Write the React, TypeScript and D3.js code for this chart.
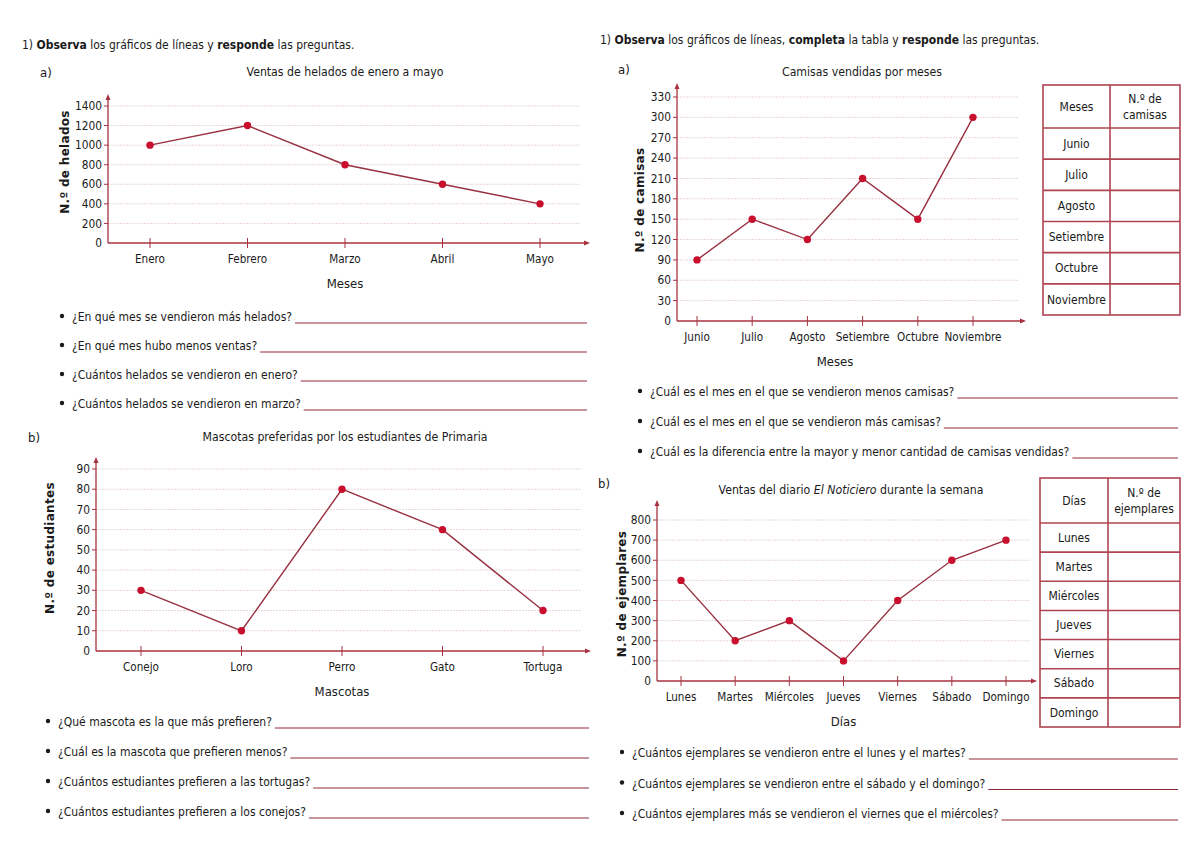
import { useEffect, useRef } from "react";
import * as d3 from "d3";

// chart a) helados
const heladosMeses = ["Enero", "Febrero", "Marzo", "Abril", "Mayo"];
const heladosVentas = [1000, 1200, 800, 600, 400];
const heladosPreguntas = [
  "¿En qué mes se vendieron más helados?",
  "¿En qué mes hubo menos ventas?",
  "¿Cuántos helados se vendieron en enero?",
  "¿Cuántos helados se vendieron en marzo?",
];

// chart b) mascotas
const mascotas = ["Conejo", "Loro", "Perro", "Gato", "Tortuga"];
const mascotasVotos = [30, 10, 80, 60, 20];
const mascotasPreguntas = [
  "¿Qué mascota es la que más prefieren?",
  "¿Cuál es la mascota que prefieren menos?",
  "¿Cuántos estudiantes prefieren a las tortugas?",
  "¿Cuántos estudiantes prefieren a los conejos?",
];

// chart c) camisas
const camisasMeses = ["Junio", "Julio", "Agosto", "Setiembre", "Octubre", "Noviembre"];
const camisasVentas = [90, 150, 120, 210, 150, 300];
const camisasPreguntas = [
  "¿Cuál es el mes en el que se vendieron menos camisas?",
  "¿Cuál es el mes en el que se vendieron más camisas?",
  "¿Cuál es la diferencia entre la mayor y menor cantidad de camisas vendidas?",
];

// chart d) diario
const dias = ["Lunes", "Martes", "Miércoles", "Jueves", "Viernes", "Sábado", "Domingo"];
const diarioVentas = [500, 200, 300, 100, 400, 600, 700];
const diarioPreguntas = [
  "¿Cuántos ejemplares se vendieron entre el lunes y el martes?",
  "¿Cuántos ejemplares se vendieron entre el sábado y el domingo?",
  "¿Cuántos ejemplares más se vendieron el viernes que el miércoles?",
];

const FONT = "'Liberation Sans Narrow', 'DejaVu Sans Condensed', 'Liberation Sans', sans-serif";
const YFONT = "'DejaVu Sans', sans-serif";
const AXIS = "#a8323f";
const LINE = "#983040";
const DOT = "#c8102e";
const GRID = "#ead6d8";
const INK = "#1a1a1a";
const TABLE = "#b04452";

type ChartProps = {
  cats: string[];
  vals: number[];
  max: number;
  step: number;
  x0: number;
  y0: number;
  yTop: number;
  firstX: number;
  lastX: number;
  gridRight: number;
  arrowRight: number;
  arrowTop: number;
  xTitle: string;
  yTitle: string;
  yTitleX: number;
  yTitleY: number;
};

function LineChart(p: ChartProps) {
  const y = d3.scaleLinear().domain([0, p.max]).range([p.y0, p.yTop]);
  const x = d3.scalePoint<string>().domain(p.cats).range([p.firstX, p.lastX]);
  const ticks = d3.range(0, p.max + 1, p.step);
  const line = d3
    .line<number>()
    .x((_, i) => x(p.cats[i]) as number)
    .y((d) => y(d));
  return (
    <g fontFamily={FONT}>
      {ticks.slice(1).map((t) => (
        <line key={"g" + t} x1={p.x0} x2={p.gridRight} y1={y(t)} y2={y(t)} stroke={GRID} strokeWidth={1} strokeDasharray="2 1" />
      ))}
      <line x1={p.x0} x2={p.x0} y1={p.y0} y2={p.arrowTop + 3} stroke={AXIS} strokeWidth={1.3} />
      <path d={`M${p.x0},${p.arrowTop} l-2.5,6 l5,0 z`} fill={AXIS} />
      <line x1={p.x0} x2={p.arrowRight - 3} y1={p.y0} y2={p.y0} stroke={AXIS} strokeWidth={1.3} />
      <path d={`M${p.arrowRight},${p.y0} l-6,-2.5 l0,5 z`} fill={AXIS} />
      {ticks.map((t) => (
        <g key={"t" + t}>
          {t > 0 && <line x1={p.x0 - 4} x2={p.x0} y1={y(t)} y2={y(t)} stroke={AXIS} strokeWidth={1} />}
          <text x={p.x0 - 6} y={y(t)} dy="0.35em" textAnchor="end" fontSize={11.8} fill={INK}>
            {t}
          </text>
        </g>
      ))}
      {p.cats.map((c) => (
        <g key={c}>
          <line x1={x(c)} x2={x(c)} y1={p.y0 - 5} y2={p.y0 + 5} stroke={AXIS} strokeWidth={1} />
          <text x={x(c)} y={p.y0 + 16} dy="0.35em" textAnchor="middle" fontSize={11.6} fill={INK}>
            {c}
          </text>
        </g>
      ))}
      <path d={line(p.vals) ?? ""} fill="none" stroke={LINE} strokeWidth={1.4} />
      {p.vals.map((v, i) => (
        <circle key={i} cx={x(p.cats[i])} cy={y(v)} r={3.7} fill={DOT} />
      ))}
      <text x={(p.firstX + p.lastX) / 2} y={p.y0 + 40} dy="0.35em" textAnchor="middle" fontSize={13} fill={INK}>
        {p.xTitle}
      </text>
      <text
        transform={`translate(${p.yTitleX},${p.yTitleY}) rotate(-90)`}
        textAnchor="middle"
        dy="0.35em"
        fontFamily={YFONT}
        fontWeight="bold"
        fontSize={12}
        letterSpacing={0.3}
        fill={INK}
      >
        {p.yTitle}
      </text>
    </g>
  );
}

function Questions(props: { items: string[]; x: number; y0: number; gap: number; right: number }) {
  return (
    <g fontFamily={FONT} fontSize={12}>
      {props.items.map((q, i) => {
        const yy = props.y0 + i * props.gap;
        return (
          <g key={q} className="q" data-x={props.x + 10}>
            <circle cx={props.x} cy={yy - 1} r={2.2} fill={INK} />
            <text x={props.x + 10} y={yy} dy="0.35em" fill={INK}>
              {q}
            </text>
            <line x1={props.x + 200} x2={props.right} y1={yy + 6} y2={yy + 6} stroke="#8e2a36" strokeWidth={1} />
          </g>
        );
      })}
    </g>
  );
}

function Table(props: {
  rows: string[];
  head1: string;
  head2: [string, string];
  x1: number;
  xm: number;
  x2: number;
  top: number;
  headBottom: number;
  bottom: number;
}) {
  const band = d3.scaleBand<string>().domain(props.rows).range([props.headBottom, props.bottom]);
  const c1 = (props.x1 + props.xm) / 2;
  const c2 = (props.xm + props.x2) / 2;
  const hc = (props.top + props.headBottom) / 2;
  return (
    <g fontFamily={FONT} fontSize={12} fill={INK}>
      <rect x={props.x1} y={props.top} width={props.x2 - props.x1} height={props.bottom - props.top} fill="none" stroke={TABLE} strokeWidth={1.6} />
      <line x1={props.xm} x2={props.xm} y1={props.top} y2={props.bottom} stroke={TABLE} strokeWidth={1.6} />
      <line x1={props.x1} x2={props.x2} y1={props.headBottom} y2={props.headBottom} stroke={TABLE} strokeWidth={1.6} />
      {props.rows.slice(1).map((r) => (
        <line key={r} x1={props.x1} x2={props.x2} y1={band(r)} y2={band(r)} stroke={TABLE} strokeWidth={1.6} />
      ))}
      <text x={c1} y={hc} dy="0.35em" textAnchor="middle">{props.head1}</text>
      <text x={c2} y={hc - 8} dy="0.35em" textAnchor="middle">{props.head2[0]}</text>
      <text x={c2} y={hc + 8} dy="0.35em" textAnchor="middle">{props.head2[1]}</text>
      {props.rows.map((r) => (
        <text key={r} x={c1} y={(band(r) as number) + band.bandwidth() / 2} dy="0.35em" textAnchor="middle">
          {r}
        </text>
      ))}
    </g>
  );
}

export default function App() {
  const ref = useRef<SVGSVGElement | null>(null);

  useEffect(() => {
    if (!ref.current) return;
    d3.select(ref.current)
      .selectAll<SVGGElement, unknown>("g.q")
      .each(function () {
        const t = this.querySelector("text") as SVGTextElement;
        const l = this.querySelector("line") as SVGLineElement;
        const tx = Number(this.getAttribute("data-x"));
        l.setAttribute("x1", String(tx + t.getComputedTextLength() + 3));
      });
  }, []);

  return (
    <svg ref={ref} width={1200} height={849} style={{ position: "absolute", left: 0, top: 0, background: "#fff" }}>
      <g fontFamily={FONT} fill={INK}>
        <text x={22} y={45} dy="0.35em" fontSize={12}>
          <tspan>1) </tspan>
          <tspan fontWeight="bold">Observa</tspan>
          <tspan> los gráficos de líneas y </tspan>
          <tspan fontWeight="bold">responde</tspan>
          <tspan> las preguntas.</tspan>
        </text>
        <text x={600} y={40} dy="0.35em" fontSize={12}>
          <tspan>1) </tspan>
          <tspan fontWeight="bold">Observa</tspan>
          <tspan> los gráficos de líneas, </tspan>
          <tspan fontWeight="bold">completa</tspan>
          <tspan> la tabla y </tspan>
          <tspan fontWeight="bold">responde</tspan>
          <tspan> las preguntas.</tspan>
        </text>
        <text x={40} y={72} dy="0.35em" fontSize={13}>a)</text>
        <text x={345} y={72} dy="0.35em" fontSize={12.2} textAnchor="middle">Ventas de helados de enero a mayo</text>
        <text x={28} y={437} dy="0.35em" fontSize={13}>b)</text>
        <text x={345} y={437} dy="0.35em" fontSize={12.2} textAnchor="middle">Mascotas preferidas por los estudiantes de Primaria</text>
        <text x={618} y={69} dy="0.35em" fontSize={13}>a)</text>
        <text x={862} y={72} dy="0.35em" fontSize={12.2} textAnchor="middle">Camisas vendidas por meses</text>
        <text x={598} y={483} dy="0.35em" fontSize={13}>b)</text>
        <text x={851} y={490} dy="0.35em" fontSize={12.2} textAnchor="middle">
          <tspan>Ventas del diario </tspan>
          <tspan fontStyle="italic">El Noticiero</tspan>
          <tspan> durante la semana</tspan>
        </text>
      </g>

      <LineChart
        cats={heladosMeses}
        vals={heladosVentas}
        max={1400}
        step={200}
        x0={108}
        y0={243}
        yTop={106}
        firstX={150}
        lastX={540}
        gridRight={580}
        arrowRight={590}
        arrowTop={94}
        xTitle="Meses"
        yTitle="N.º de helados"
        yTitleX={65}
        yTitleY={162}
      />
      <Questions items={heladosPreguntas} x={62} y0={317} gap={29} right={587} />

      <LineChart
        cats={mascotas}
        vals={mascotasVotos}
        max={90}
        step={10}
        x0={96}
        y0={651}
        yTop={469}
        firstX={141}
        lastX={543}
        gridRight={582}
        arrowRight={591}
        arrowTop={457}
        xTitle="Mascotas"
        yTitle="N.º de estudiantes"
        yTitleX={50}
        yTitleY={548}
      />
      <Questions items={mascotasPreguntas} x={48} y0={722} gap={30} right={589} />

      <LineChart
        cats={camisasMeses}
        vals={camisasVentas}
        max={330}
        step={30}
        x0={677}
        y0={321}
        yTop={97}
        firstX={697}
        lastX={973}
        gridRight={1018}
        arrowRight={1026}
        arrowTop={83}
        xTitle="Meses"
        yTitle="N.º de camisas"
        yTitleX={640}
        yTitleY={200}
      />
      <Table
        rows={camisasMeses}
        head1="Meses"
        head2={["N.º de", "camisas"]}
        x1={1043}
        xm={1110}
        x2={1180}
        top={85}
        headBottom={128}
        bottom={315}
      />
      <Questions items={camisasPreguntas} x={640} y0={392} gap={30} right={1178} />

      <LineChart
        cats={dias}
        vals={diarioVentas}
        max={800}
        step={100}
        x0={657}
        y0={681}
        yTop={520}
        firstX={681}
        lastX={1006}
        gridRight={1030}
        arrowRight={1037}
        arrowTop={500}
        xTitle="Días"
        yTitle="N.º de ejemplares"
        yTitleX={622}
        yTitleY={594}
      />
      <Table
        rows={dias}
        head1="Días"
        head2={["N.º de", "ejemplares"]}
        x1={1040}
        xm={1108}
        x2={1180}
        top={478}
        headBottom={523}
        bottom={727}
      />
      <Questions items={diarioPreguntas} x={622} y0={753} gap={30.5} right={1178} />
    </svg>
  );
}
